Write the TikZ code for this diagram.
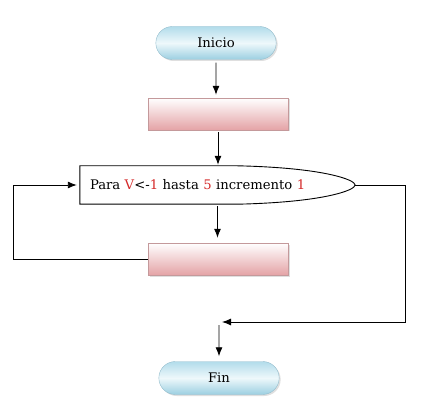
\documentclass[tikz,border=0pt]{standalone}
\usepackage{fontspec}
\setmainfont{DejaVu Serif}
\usepackage{tikz}
\usetikzlibrary{arrows.meta}
\usetikzlibrary{shapes.misc}
\usetikzlibrary{shadows}
\usetikzlibrary{calc}
\definecolor{termtop}{HTML}{B2DCEA}
\definecolor{termmid}{HTML}{EEF8FB}
\definecolor{termbot}{HTML}{9CCFE1}
\definecolor{termline}{HTML}{94BDCD}
\definecolor{procbot}{HTML}{E4A3A6}
\definecolor{procline}{HTML}{C4999B}
\definecolor{valred}{HTML}{D42A2A}
\tikzset{
	%	terminal/.style={ellipse,draw},
	terminal/.style={rounded rectangle,draw=termline,top color=termtop,bottom color=termbot,middle color=termmid,minimum width=127pt,minimum height=33pt,drop shadow={shadow xshift=1.5pt,shadow yshift=-1.5pt,opacity=0.25}},
	process/.style={rectangle,draw=procline,top color=white,bottom color=procbot,minimum width=140pt,minimum height=32pt,drop shadow={shadow xshift=1.5pt,shadow yshift=-1.5pt,opacity=0.25}},
	edge/.style={->,> = {Latex[length=9pt,width=7pt]},line width=0.9pt}
}
\newcommand{\val}[1]{\textcolor{valred}{#1}}

\begin{document}
\begin{tikzpicture}[x=1pt,y=-1pt,font=\fontsize{13.2}{16}\selectfont]
	\useasboundingbox (0,0) rectangle (447,406);
	\node[terminal] (inicio) at (216, 43) {Inicio};
	\node[process] (calc1) at (218, 114) {};
	\node[minimum width=275pt,minimum height=38pt,inner xsep=10pt,text width=255pt,align=left] (para) at (217.5, 185) {Para \val{V}<-\val{1} hasta \val{5} incremento \val{1}};
	\node[process] (calc2) at (218, 259) {};
	\node[terminal] (fin) at (219, 378) {Fin};
	\coordinate (merge) at (219, 322);
	
	% para shape
	\draw[line width=0.9pt] (para.north west) -- ($(para.north)+(20,0)$)
		.. controls ($(para.north east)+(-30,2)$) and ($(para.east)+(0,-5)$) .. (para.east)
		.. controls ($(para.east)+(0,5)$) and ($(para.south east)+(-30,-2)$) .. ($(para.south)+(20,0)$)
		-- (para.south west) -- cycle;
	
	\draw[edge,shorten <=3pt,shorten >=3pt] (inicio) -- (inicio |- calc1.north);
	\draw[edge,shorten <=2pt,shorten >=1pt] (calc1) -- (calc1 |- para.north);
	\draw[edge,shorten <=2pt,shorten >=5pt] (para) -- (para |- calc2.north);
	\draw[edge,shorten >=3pt] (calc2.west) -- ++(-134,0) |- (para.west);
	\draw[edge,shorten >=3pt] (para.east) -- ++(50,0) |- (merge);
	\draw[edge,shorten <=3pt,shorten >=5pt] (merge) -- (fin);
\end{tikzpicture}
\end{document}
